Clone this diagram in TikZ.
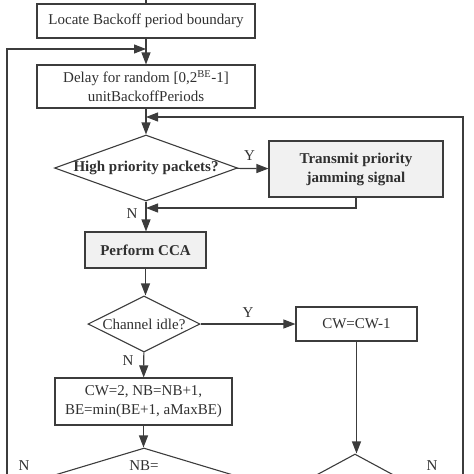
\documentclass[tikz,border=0pt]{standalone}
\usepackage{fontspec}
\setmainfont{Liberation Serif}
\usetikzlibrary{shapes.geometric,arrows.meta}
\definecolor{lineg}{HTML}{3C3C3C}
\definecolor{textg}{HTML}{303030}
\definecolor{boxg}{HTML}{F1F1F1}
\begin{document}
\begin{tikzpicture}[x=1pt,y=-1pt,
    >={Triangle[length=12pt,width=9pt]},
    draw=lineg,line width=1.1pt,
    every node/.style={text=textg,font=\fontsize{15}{19}\selectfont},
    proc/.style={rectangle,draw=lineg,line width=1.1pt,inner sep=0pt,align=center},
    shaded/.style={proc,fill=boxg,font=\fontsize{15}{19}\selectfont\bfseries},
    decision/.style={diamond,draw=lineg,line width=1.1pt,inner sep=0pt},
    yn/.style={inner sep=0pt}]
    \useasboundingbox (0,0) rectangle (474,474);
    \clip (0,0) rectangle (474,474);
    % left column
    \coordinate (start) at (146,0);
    \node[proc, minimum width=218, minimum height=34] (locate) at (146,21) {Locate Backoff period boundary};
    \node[proc, minimum width=218, minimum height=43] (delay) at (146,86.5) {Delay for random [0,2\textsuperscript{BE}-1]\\unitBackoffPeriods};
    \node[decision, minimum width=183, minimum height=66,
          label={[font=\fontsize{15}{19}\selectfont\bfseries]center:High priority packets?}] (hpp) at (146,168) {};
    \node[shaded, minimum width=174, minimum height=56] (jam) at (356,169) {Transmit priority\\jamming signal};
    \node[shaded, minimum width=121, minimum height=36] (cca) at (145.5,250) {Perform CCA};
    \node[decision, minimum width=112, minimum height=56, label=center:Channel idle?] (idle) at (144,324) {};
    \node[proc, minimum width=121, minimum height=34] (cwdec) at (356.5,324) {CW=CW-1};
    \node[proc, minimum width=177, minimum height=47] (upd) at (143.5,401.5) {CW=2, NB=NB+1,\\BE=min(BE+1, aMaxBE)};
    \node[decision, minimum width=212, minimum height=64] (nbchk) at (144,480) {};
    \node[anchor=north, inner sep=0pt] (nbtxt) at ([yshift=-13pt]nbchk.north) {NB=};
    \node[decision, minimum width=96, minimum height=52] (cwchk) at (355,480) {};
    % junctions and loop corners
    \coordinate (j1) at (146,49);
    \coordinate (j2) at (146,117);
    \coordinate (j3) at (146,208);
    \coordinate (cl) at (7,480);
    \coordinate (cr) at (463,480);
    % connectors
    \draw (start) -- (locate);
    \draw [->] (locate) -- (delay);
    \draw [->] (delay) -- (hpp);
    \draw [->] (hpp) -- (jam) node [yn, pos=0.4, above=7pt] {Y};
    \draw [->] (jam.south) |- (j3);
    \draw [->] (hpp.south) -- (hpp.south |- cca.north);
    \node [yn] at (132,214) {N};
    \draw [->] (cca.south) -- (cca.south |- idle.north);
    \draw [->] (idle) -- (cwdec) node [yn, midway, above=6pt] {Y};
    \draw [->] (idle) -- (upd);
    \node [yn] at (128,361) {N};
    \draw [->] (upd.south) -- (upd.south |- nbchk.north);
    \draw [->] (cwdec.south) -- (cwdec.south |- cwchk.north);
    \draw [->] (nbchk.west) -- (cl) |- (j1);
    \node [yn] at (24,466) {N};
    \draw [->] (cwchk.east) -- (cr) |- (j2);
    \node [yn] at (432,466) {N};
\end{tikzpicture}
\end{document}
